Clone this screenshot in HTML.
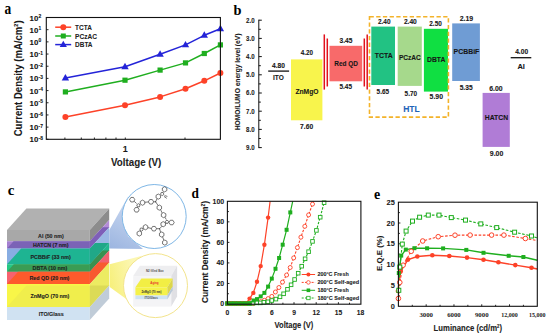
<!DOCTYPE html>
<html><head><meta charset="utf-8"><style>
html,body{margin:0;padding:0;background:#fff;}
body{width:550px;height:336px;overflow:hidden;}
svg{display:block;}
</style></head><body>
<svg width="550" height="336" viewBox="0 0 550 336" font-family="Liberation Sans, sans-serif">
<rect width="550" height="336" fill="#fff"/>
<text x="4.50" y="14.00" font-size="16" text-anchor="start" fill="#000" stroke="#000" stroke-width="0" font-family="Liberation Serif, serif" font-weight="bold" textLength="6.70" lengthAdjust="spacingAndGlyphs" >a</text>
<line x1="46.30" y1="17.50" x2="48.50" y2="17.50" stroke="#111" stroke-width="0.9" />
<line x1="46.30" y1="29.68" x2="48.50" y2="29.68" stroke="#111" stroke-width="0.9" />
<line x1="46.30" y1="41.86" x2="48.50" y2="41.86" stroke="#111" stroke-width="0.9" />
<line x1="46.30" y1="54.04" x2="48.50" y2="54.04" stroke="#111" stroke-width="0.9" />
<line x1="46.30" y1="66.22" x2="48.50" y2="66.22" stroke="#111" stroke-width="0.9" />
<line x1="46.30" y1="78.40" x2="48.50" y2="78.40" stroke="#111" stroke-width="0.9" />
<line x1="46.30" y1="90.58" x2="48.50" y2="90.58" stroke="#111" stroke-width="0.9" />
<line x1="46.30" y1="102.76" x2="48.50" y2="102.76" stroke="#111" stroke-width="0.9" />
<line x1="46.30" y1="114.94" x2="48.50" y2="114.94" stroke="#111" stroke-width="0.9" />
<line x1="46.30" y1="127.12" x2="48.50" y2="127.12" stroke="#111" stroke-width="0.9" />
<line x1="46.30" y1="139.30" x2="48.50" y2="139.30" stroke="#111" stroke-width="0.9" />
<line x1="64.90" y1="139.30" x2="64.90" y2="137.50" stroke="#111" stroke-width="0.9" />
<line x1="81.30" y1="139.30" x2="81.30" y2="137.50" stroke="#111" stroke-width="0.9" />
<line x1="94.40" y1="139.30" x2="94.40" y2="137.50" stroke="#111" stroke-width="0.9" />
<line x1="105.90" y1="139.30" x2="105.90" y2="137.50" stroke="#111" stroke-width="0.9" />
<line x1="116.00" y1="139.30" x2="116.00" y2="137.50" stroke="#111" stroke-width="0.9" />
<line x1="125.30" y1="139.30" x2="125.30" y2="137.50" stroke="#111" stroke-width="0.9" />
<line x1="185.00" y1="139.30" x2="185.00" y2="137.50" stroke="#111" stroke-width="0.9" />
<polyline points="65.40,116.90 125.00,105.20 160.10,96.90 185.50,88.80 204.30,80.80 220.40,73.00" fill="none" stroke="#fd4228" stroke-width="1.5" stroke-linejoin="round" />
<polyline points="65.40,91.90 125.00,80.20 160.10,70.10 185.50,62.90 204.30,53.50 220.40,44.90" fill="none" stroke="#1fae1f" stroke-width="1.5" stroke-linejoin="round" />
<polyline points="65.40,78.10 125.00,66.70 160.10,54.30 185.50,44.90 204.30,35.30 220.40,28.80" fill="none" stroke="#2424d8" stroke-width="1.5" stroke-linejoin="round" />
<circle cx="65.40" cy="116.90" r="3.0" fill="#fd4228" stroke="none" stroke-width="1"/>
<circle cx="125.00" cy="105.20" r="3.0" fill="#fd4228" stroke="none" stroke-width="1"/>
<circle cx="160.10" cy="96.90" r="3.0" fill="#fd4228" stroke="none" stroke-width="1"/>
<circle cx="185.50" cy="88.80" r="3.0" fill="#fd4228" stroke="none" stroke-width="1"/>
<circle cx="204.30" cy="80.80" r="3.0" fill="#fd4228" stroke="none" stroke-width="1"/>
<circle cx="220.40" cy="73.00" r="3.0" fill="#fd4228" stroke="none" stroke-width="1"/>
<rect x="62.80" y="89.30" width="5.2" height="5.2" fill="#1fae1f" stroke="none" stroke-width="1"/>
<rect x="122.40" y="77.60" width="5.2" height="5.2" fill="#1fae1f" stroke="none" stroke-width="1"/>
<rect x="157.50" y="67.50" width="5.2" height="5.2" fill="#1fae1f" stroke="none" stroke-width="1"/>
<rect x="182.90" y="60.30" width="5.2" height="5.2" fill="#1fae1f" stroke="none" stroke-width="1"/>
<rect x="201.70" y="50.90" width="5.2" height="5.2" fill="#1fae1f" stroke="none" stroke-width="1"/>
<rect x="217.80" y="42.30" width="5.2" height="5.2" fill="#1fae1f" stroke="none" stroke-width="1"/>
<polygon points="65.40,74.11 69.10,80.55 61.70,80.55" fill="#2424d8" />
<polygon points="125.00,62.71 128.70,69.15 121.30,69.15" fill="#2424d8" />
<polygon points="160.10,50.31 163.80,56.75 156.40,56.75" fill="#2424d8" />
<polygon points="185.50,40.91 189.20,47.35 181.80,47.35" fill="#2424d8" />
<polygon points="204.30,31.31 208.00,37.75 200.60,37.75" fill="#2424d8" />
<polygon points="220.40,24.81 224.10,31.25 216.70,31.25" fill="#2424d8" />
<rect x="46.30" y="17.50" width="174.10" height="121.80" fill="none" stroke="#111" stroke-width="1.1"/>
<text x="38.30" y="20.50" font-size="7.84" text-anchor="end" fill="#111" stroke="#111" stroke-width="0.08" font-family="Liberation Sans, sans-serif" font-weight="bold" >10</text>
<text x="38.50" y="18.10" font-size="4.93" text-anchor="start" fill="#111" stroke="#111" stroke-width="0.08" font-family="Liberation Sans, sans-serif" font-weight="bold" >2</text>
<text x="38.30" y="32.68" font-size="7.84" text-anchor="end" fill="#111" stroke="#111" stroke-width="0.08" font-family="Liberation Sans, sans-serif" font-weight="bold" >10</text>
<text x="38.50" y="30.28" font-size="4.93" text-anchor="start" fill="#111" stroke="#111" stroke-width="0.08" font-family="Liberation Sans, sans-serif" font-weight="bold" >1</text>
<text x="38.30" y="44.86" font-size="7.84" text-anchor="end" fill="#111" stroke="#111" stroke-width="0.08" font-family="Liberation Sans, sans-serif" font-weight="bold" >10</text>
<text x="38.50" y="42.46" font-size="4.93" text-anchor="start" fill="#111" stroke="#111" stroke-width="0.08" font-family="Liberation Sans, sans-serif" font-weight="bold" >0</text>
<text x="38.30" y="57.04" font-size="7.84" text-anchor="end" fill="#111" stroke="#111" stroke-width="0.08" font-family="Liberation Sans, sans-serif" font-weight="bold" >10</text>
<text x="38.50" y="54.64" font-size="4.93" text-anchor="start" fill="#111" stroke="#111" stroke-width="0.08" font-family="Liberation Sans, sans-serif" font-weight="bold" >-1</text>
<text x="38.30" y="69.22" font-size="7.84" text-anchor="end" fill="#111" stroke="#111" stroke-width="0.08" font-family="Liberation Sans, sans-serif" font-weight="bold" >10</text>
<text x="38.50" y="66.82" font-size="4.93" text-anchor="start" fill="#111" stroke="#111" stroke-width="0.08" font-family="Liberation Sans, sans-serif" font-weight="bold" >-2</text>
<text x="38.30" y="81.40" font-size="7.84" text-anchor="end" fill="#111" stroke="#111" stroke-width="0.08" font-family="Liberation Sans, sans-serif" font-weight="bold" >10</text>
<text x="38.50" y="79.00" font-size="4.93" text-anchor="start" fill="#111" stroke="#111" stroke-width="0.08" font-family="Liberation Sans, sans-serif" font-weight="bold" >-3</text>
<text x="38.30" y="93.58" font-size="7.84" text-anchor="end" fill="#111" stroke="#111" stroke-width="0.08" font-family="Liberation Sans, sans-serif" font-weight="bold" >10</text>
<text x="38.50" y="91.18" font-size="4.93" text-anchor="start" fill="#111" stroke="#111" stroke-width="0.08" font-family="Liberation Sans, sans-serif" font-weight="bold" >-4</text>
<text x="38.30" y="105.76" font-size="7.84" text-anchor="end" fill="#111" stroke="#111" stroke-width="0.08" font-family="Liberation Sans, sans-serif" font-weight="bold" >10</text>
<text x="38.50" y="103.36" font-size="4.93" text-anchor="start" fill="#111" stroke="#111" stroke-width="0.08" font-family="Liberation Sans, sans-serif" font-weight="bold" >-5</text>
<text x="38.30" y="117.94" font-size="7.84" text-anchor="end" fill="#111" stroke="#111" stroke-width="0.08" font-family="Liberation Sans, sans-serif" font-weight="bold" >10</text>
<text x="38.50" y="115.54" font-size="4.93" text-anchor="start" fill="#111" stroke="#111" stroke-width="0.08" font-family="Liberation Sans, sans-serif" font-weight="bold" >-6</text>
<text x="38.30" y="130.12" font-size="7.84" text-anchor="end" fill="#111" stroke="#111" stroke-width="0.08" font-family="Liberation Sans, sans-serif" font-weight="bold" >10</text>
<text x="38.50" y="127.72" font-size="4.93" text-anchor="start" fill="#111" stroke="#111" stroke-width="0.08" font-family="Liberation Sans, sans-serif" font-weight="bold" >-7</text>
<text x="38.30" y="142.30" font-size="7.84" text-anchor="end" fill="#111" stroke="#111" stroke-width="0.08" font-family="Liberation Sans, sans-serif" font-weight="bold" >10</text>
<text x="38.50" y="139.90" font-size="4.93" text-anchor="start" fill="#111" stroke="#111" stroke-width="0.08" font-family="Liberation Sans, sans-serif" font-weight="bold" >-8</text>
<line x1="55.20" y1="27.20" x2="71.20" y2="27.20" stroke="#fd4228" stroke-width="1.5" />
<circle cx="63.30" cy="27.20" r="3.0" fill="#fd4228" stroke="none" stroke-width="1"/>
<text x="75.10" y="29.70" font-size="7.84" text-anchor="start" fill="#222" stroke="#222" stroke-width="0.08" font-family="Liberation Sans, sans-serif" font-weight="bold" textLength="16.70" lengthAdjust="spacingAndGlyphs" >TCTA</text>
<line x1="55.20" y1="36.00" x2="71.20" y2="36.00" stroke="#1fae1f" stroke-width="1.5" />
<rect x="60.80" y="33.50" width="5.0" height="5.0" fill="#1fae1f" stroke="none" stroke-width="1"/>
<text x="75.10" y="38.50" font-size="7.84" text-anchor="start" fill="#222" stroke="#222" stroke-width="0.08" font-family="Liberation Sans, sans-serif" font-weight="bold" textLength="21.80" lengthAdjust="spacingAndGlyphs" >PCzAC</text>
<line x1="55.20" y1="44.60" x2="71.20" y2="44.60" stroke="#2424d8" stroke-width="1.5" />
<polygon points="63.30,40.72 66.90,46.98 59.70,46.98" fill="#2424d8" />
<text x="75.10" y="47.10" font-size="7.84" text-anchor="start" fill="#222" stroke="#222" stroke-width="0.08" font-family="Liberation Sans, sans-serif" font-weight="bold" textLength="17.40" lengthAdjust="spacingAndGlyphs" >DBTA</text>
<text x="125.20" y="152.00" font-size="8.96" text-anchor="middle" fill="#1a1a1a" stroke="#1a1a1a" stroke-width="0.08" font-family="Liberation Sans, sans-serif" font-weight="bold" >1</text>
<text x="111.10" y="165.50" font-size="10.08" text-anchor="start" fill="#222" stroke="#222" stroke-width="0.08" font-family="Liberation Sans, sans-serif" font-weight="bold" textLength="50.20" lengthAdjust="spacingAndGlyphs" >Voltage (V)</text>
<text transform="translate(21.60,136.30) rotate(-90)" x="0" y="0" font-size="10.08" fill="#1a1a1a" stroke="#1a1a1a" stroke-width="0.08" font-family="Liberation Sans, sans-serif" font-weight="bold" textLength="115.90" lengthAdjust="spacingAndGlyphs">Current Density (mA/cm<tspan font-size="5.8" dy="-3.6">2</tspan><tspan dy="3.6">)</tspan></text>
<text x="233.60" y="15.20" font-size="15" text-anchor="start" fill="#000" stroke="#000" stroke-width="0" font-family="Liberation Serif, serif" font-weight="bold" textLength="8.00" lengthAdjust="spacingAndGlyphs" >b</text>
<line x1="258.80" y1="19.70" x2="258.80" y2="148.10" stroke="#111" stroke-width="1.0" />
<line x1="258.80" y1="20.20" x2="261.80" y2="20.20" stroke="#111" stroke-width="1.0" />
<text x="246.10" y="22.60" font-size="6.5" text-anchor="start" fill="#1a1a1a" stroke="#1a1a1a" stroke-width="0.08" font-family="Liberation Sans, sans-serif" font-weight="bold" textLength="8.50" lengthAdjust="spacingAndGlyphs" >2.0</text>
<line x1="258.80" y1="29.30" x2="260.80" y2="29.30" stroke="#111" stroke-width="1.0" />
<line x1="258.80" y1="38.40" x2="261.80" y2="38.40" stroke="#111" stroke-width="1.0" />
<text x="246.10" y="40.80" font-size="6.5" text-anchor="start" fill="#1a1a1a" stroke="#1a1a1a" stroke-width="0.08" font-family="Liberation Sans, sans-serif" font-weight="bold" textLength="8.50" lengthAdjust="spacingAndGlyphs" >3.0</text>
<line x1="258.80" y1="47.50" x2="260.80" y2="47.50" stroke="#111" stroke-width="1.0" />
<line x1="258.80" y1="56.60" x2="261.80" y2="56.60" stroke="#111" stroke-width="1.0" />
<text x="246.10" y="59.00" font-size="6.5" text-anchor="start" fill="#1a1a1a" stroke="#1a1a1a" stroke-width="0.08" font-family="Liberation Sans, sans-serif" font-weight="bold" textLength="8.50" lengthAdjust="spacingAndGlyphs" >4.0</text>
<line x1="258.80" y1="65.70" x2="260.80" y2="65.70" stroke="#111" stroke-width="1.0" />
<line x1="258.80" y1="74.80" x2="261.80" y2="74.80" stroke="#111" stroke-width="1.0" />
<text x="246.10" y="77.20" font-size="6.5" text-anchor="start" fill="#1a1a1a" stroke="#1a1a1a" stroke-width="0.08" font-family="Liberation Sans, sans-serif" font-weight="bold" textLength="8.50" lengthAdjust="spacingAndGlyphs" >5.0</text>
<line x1="258.80" y1="83.90" x2="260.80" y2="83.90" stroke="#111" stroke-width="1.0" />
<line x1="258.80" y1="93.00" x2="261.80" y2="93.00" stroke="#111" stroke-width="1.0" />
<text x="246.10" y="95.40" font-size="6.5" text-anchor="start" fill="#1a1a1a" stroke="#1a1a1a" stroke-width="0.08" font-family="Liberation Sans, sans-serif" font-weight="bold" textLength="8.50" lengthAdjust="spacingAndGlyphs" >6.0</text>
<line x1="258.80" y1="102.10" x2="260.80" y2="102.10" stroke="#111" stroke-width="1.0" />
<line x1="258.80" y1="111.20" x2="261.80" y2="111.20" stroke="#111" stroke-width="1.0" />
<text x="246.10" y="113.60" font-size="6.5" text-anchor="start" fill="#1a1a1a" stroke="#1a1a1a" stroke-width="0.08" font-family="Liberation Sans, sans-serif" font-weight="bold" textLength="8.50" lengthAdjust="spacingAndGlyphs" >7.0</text>
<line x1="258.80" y1="120.30" x2="260.80" y2="120.30" stroke="#111" stroke-width="1.0" />
<line x1="258.80" y1="129.40" x2="261.80" y2="129.40" stroke="#111" stroke-width="1.0" />
<text x="246.10" y="131.80" font-size="6.5" text-anchor="start" fill="#1a1a1a" stroke="#1a1a1a" stroke-width="0.08" font-family="Liberation Sans, sans-serif" font-weight="bold" textLength="8.50" lengthAdjust="spacingAndGlyphs" >8.0</text>
<line x1="258.80" y1="138.50" x2="260.80" y2="138.50" stroke="#111" stroke-width="1.0" />
<line x1="258.80" y1="147.60" x2="261.80" y2="147.60" stroke="#111" stroke-width="1.0" />
<text x="246.10" y="150.00" font-size="6.5" text-anchor="start" fill="#1a1a1a" stroke="#1a1a1a" stroke-width="0.08" font-family="Liberation Sans, sans-serif" font-weight="bold" textLength="8.50" lengthAdjust="spacingAndGlyphs" >9.0</text>
<text transform="translate(240.20,130.20) rotate(-90)" x="0" y="0" font-size="6.94" fill="#1a1a1a" stroke="#1a1a1a" stroke-width="0.08" font-family="Liberation Sans, sans-serif" font-weight="bold" textLength="96.60" lengthAdjust="spacingAndGlyphs">HOMO/LUMO energy level (eV)</text>
<line x1="268.20" y1="71.10" x2="289.10" y2="71.10" stroke="#111" stroke-width="1.3" />
<line x1="510.70" y1="57.70" x2="531.30" y2="57.70" stroke="#111" stroke-width="1.3" />
<rect x="291.00" y="59.40" width="31.40" height="60.90" fill="#f8f44c" />
<rect x="329.50" y="45.80" width="32.70" height="35.50" fill="#f86a6a" />
<line x1="324.30" y1="34.40" x2="324.30" y2="89.60" stroke="#e2101c" stroke-width="1.5" />
<line x1="327.30" y1="38.50" x2="327.30" y2="86.50" stroke="#e2101c" stroke-width="1.5" />
<line x1="364.30" y1="38.50" x2="364.30" y2="86.50" stroke="#e2101c" stroke-width="1.5" />
<line x1="367.20" y1="34.40" x2="367.20" y2="89.60" stroke="#e2101c" stroke-width="1.5" />
<rect x="371.30" y="26.60" width="23.70" height="58.40" fill="#22c283" />
<rect x="397.70" y="26.60" width="24.10" height="59.30" fill="#a6d98c" />
<rect x="423.90" y="28.80" width="24.10" height="62.80" fill="#10df42" />
<rect x="369.5" y="16.8" width="78.9" height="100.3" fill="none" stroke="#f3b32a" stroke-width="1.6" stroke-dasharray="4.3,2.4"/>
<rect x="452.20" y="23.40" width="27.70" height="57.60" fill="#6f9cd4" />
<rect x="482.60" y="92.90" width="27.20" height="54.00" fill="#b07cd6" />
<text x="272.10" y="67.60" font-size="7.61" text-anchor="start" fill="#161616" stroke="#161616" stroke-width="0.1" font-family="Liberation Sans, sans-serif" font-weight="bold" textLength="12.90" lengthAdjust="spacingAndGlyphs" >4.80</text>
<text x="273.00" y="80.10" font-size="7.61" text-anchor="start" fill="#161616" stroke="#161616" stroke-width="0.1" font-family="Liberation Sans, sans-serif" font-weight="bold" textLength="10.80" lengthAdjust="spacingAndGlyphs" >ITO</text>
<text x="300.70" y="55.10" font-size="7.61" text-anchor="start" fill="#161616" stroke="#161616" stroke-width="0.1" font-family="Liberation Sans, sans-serif" font-weight="bold" textLength="12.20" lengthAdjust="spacingAndGlyphs" >4.20</text>
<text x="295.40" y="93.50" font-size="8.08" text-anchor="start" fill="#161616" stroke="#161616" stroke-width="0.1" font-family="Liberation Sans, sans-serif" font-weight="bold" textLength="23.20" lengthAdjust="spacingAndGlyphs" >ZnMgO</text>
<text x="300.10" y="129.30" font-size="7.61" text-anchor="start" fill="#161616" stroke="#161616" stroke-width="0.1" font-family="Liberation Sans, sans-serif" font-weight="bold" textLength="13.00" lengthAdjust="spacingAndGlyphs" >7.60</text>
<text x="339.50" y="42.80" font-size="7.61" text-anchor="start" fill="#161616" stroke="#161616" stroke-width="0.1" font-family="Liberation Sans, sans-serif" font-weight="bold" textLength="12.90" lengthAdjust="spacingAndGlyphs" >3.45</text>
<text x="334.30" y="65.70" font-size="7.84" text-anchor="start" fill="#161616" stroke="#161616" stroke-width="0.1" font-family="Liberation Sans, sans-serif" font-weight="bold" textLength="23.70" lengthAdjust="spacingAndGlyphs" >Red QD</text>
<text x="339.50" y="89.40" font-size="7.61" text-anchor="start" fill="#161616" stroke="#161616" stroke-width="0.1" font-family="Liberation Sans, sans-serif" font-weight="bold" textLength="12.50" lengthAdjust="spacingAndGlyphs" >5.45</text>
<text x="377.90" y="24.00" font-size="7.61" text-anchor="start" fill="#161616" stroke="#161616" stroke-width="0.1" font-family="Liberation Sans, sans-serif" font-weight="bold" textLength="12.60" lengthAdjust="spacingAndGlyphs" >2.40</text>
<text x="374.80" y="58.30" font-size="8.08" text-anchor="start" fill="#161616" stroke="#161616" stroke-width="0.1" font-family="Liberation Sans, sans-serif" font-weight="bold" textLength="17.90" lengthAdjust="spacingAndGlyphs" >TCTA</text>
<text x="376.60" y="93.70" font-size="7.61" text-anchor="start" fill="#161616" stroke="#161616" stroke-width="0.1" font-family="Liberation Sans, sans-serif" font-weight="bold" textLength="12.50" lengthAdjust="spacingAndGlyphs" >5.65</text>
<text x="403.90" y="24.20" font-size="7.61" text-anchor="start" fill="#161616" stroke="#161616" stroke-width="0.1" font-family="Liberation Sans, sans-serif" font-weight="bold" textLength="12.90" lengthAdjust="spacingAndGlyphs" >2.40</text>
<text x="398.90" y="60.10" font-size="8.08" text-anchor="start" fill="#161616" stroke="#161616" stroke-width="0.1" font-family="Liberation Sans, sans-serif" font-weight="bold" textLength="21.80" lengthAdjust="spacingAndGlyphs" >PCzAC</text>
<text x="404.60" y="95.50" font-size="7.61" text-anchor="start" fill="#161616" stroke="#161616" stroke-width="0.1" font-family="Liberation Sans, sans-serif" font-weight="bold" textLength="12.50" lengthAdjust="spacingAndGlyphs" >5.70</text>
<text x="429.30" y="25.80" font-size="7.61" text-anchor="start" fill="#161616" stroke="#161616" stroke-width="0.1" font-family="Liberation Sans, sans-serif" font-weight="bold" textLength="12.50" lengthAdjust="spacingAndGlyphs" >2.50</text>
<text x="427.10" y="62.20" font-size="8.08" text-anchor="start" fill="#161616" stroke="#161616" stroke-width="0.1" font-family="Liberation Sans, sans-serif" font-weight="bold" textLength="18.30" lengthAdjust="spacingAndGlyphs" >DBTA</text>
<text x="429.60" y="99.40" font-size="7.61" text-anchor="start" fill="#161616" stroke="#161616" stroke-width="0.1" font-family="Liberation Sans, sans-serif" font-weight="bold" textLength="13.40" lengthAdjust="spacingAndGlyphs" >5.90</text>
<text x="459.70" y="21.40" font-size="7.15" text-anchor="start" fill="#161616" stroke="#161616" stroke-width="0.1" font-family="Liberation Sans, sans-serif" font-weight="bold" textLength="13.50" lengthAdjust="spacingAndGlyphs" >2.19</text>
<text x="453.60" y="54.30" font-size="7.38" text-anchor="start" fill="#161616" stroke="#161616" stroke-width="0.1" font-family="Liberation Sans, sans-serif" font-weight="bold" textLength="25.70" lengthAdjust="spacingAndGlyphs" >PCBBiF</text>
<text x="459.70" y="89.70" font-size="7.15" text-anchor="start" fill="#161616" stroke="#161616" stroke-width="0.1" font-family="Liberation Sans, sans-serif" font-weight="bold" textLength="12.90" lengthAdjust="spacingAndGlyphs" >5.35</text>
<text x="515.20" y="54.30" font-size="7.15" text-anchor="start" fill="#161616" stroke="#161616" stroke-width="0.1" font-family="Liberation Sans, sans-serif" font-weight="bold" textLength="12.90" lengthAdjust="spacingAndGlyphs" >4.00</text>
<text x="517.40" y="68.50" font-size="7.15" text-anchor="start" fill="#161616" stroke="#161616" stroke-width="0.1" font-family="Liberation Sans, sans-serif" font-weight="bold" textLength="7.50" lengthAdjust="spacingAndGlyphs" >Al</text>
<text x="489.20" y="91.30" font-size="7.15" text-anchor="start" fill="#161616" stroke="#161616" stroke-width="0.1" font-family="Liberation Sans, sans-serif" font-weight="bold" textLength="13.40" lengthAdjust="spacingAndGlyphs" >6.00</text>
<text x="484.80" y="119.60" font-size="7.38" text-anchor="start" fill="#161616" stroke="#161616" stroke-width="0.1" font-family="Liberation Sans, sans-serif" font-weight="bold" textLength="23.30" lengthAdjust="spacingAndGlyphs" >HATCN</text>
<text x="489.80" y="155.80" font-size="7.15" text-anchor="start" fill="#161616" stroke="#161616" stroke-width="0.1" font-family="Liberation Sans, sans-serif" font-weight="bold" textLength="13.50" lengthAdjust="spacingAndGlyphs" >9.00</text>
<text x="403.20" y="112.30" font-size="9.63" text-anchor="start" fill="#2263b8" stroke="#2263b8" stroke-width="0.05" font-family="Liberation Sans, sans-serif" font-weight="bold" textLength="16.60" lengthAdjust="spacingAndGlyphs" >HTL</text>
<text x="7.80" y="195.00" font-size="15" text-anchor="start" fill="#000" stroke="#000" stroke-width="0" font-family="Liberation Serif, serif" font-weight="bold" textLength="6.60" lengthAdjust="spacingAndGlyphs" >c</text>
<defs><linearGradient id="gb" x1="109" y1="248" x2="135" y2="200" gradientUnits="userSpaceOnUse"><stop offset="0" stop-color="#9cb5e0"/><stop offset="1" stop-color="#cddbf2"/></linearGradient><linearGradient id="gy" x1="109" y1="276" x2="135" y2="270" gradientUnits="userSpaceOnUse"><stop offset="0" stop-color="#f7f07e"/><stop offset="1" stop-color="#fcf7b4"/></linearGradient></defs>
<polygon points="109.30,230.00 128.30,196.00 124.00,216.00 128.00,236.00 143.00,249.10 109.30,248.40" fill="url(#gb)" />
<polygon points="109.70,264.30 142.10,255.70 128.00,270.00 124.50,286.00 126.90,299.50 109.70,287.10" fill="url(#gy)" />
<circle cx="154.20" cy="216.50" r="32.0" fill="#ffffff" stroke="#7fb7e6" stroke-width="1.0"/>
<circle cx="155.50" cy="285.60" r="32.0" fill="#ffffff" stroke="#f3e48c" stroke-width="1.0"/>
<polygon points="7.00,229.90 26.40,208.50 109.20,208.50 89.80,229.90" fill="#b1b1b1" />
<polygon points="7.00,229.90 89.80,229.90 89.80,241.30 7.00,241.30" fill="#a8a8a8" />
<polygon points="89.80,229.90 109.20,208.50 109.20,219.90 89.80,241.30" fill="#8c8c8c" />
<text x="38.10" y="238.20" font-size="5.94" text-anchor="start" fill="#1e1e1e" stroke="#1e1e1e" stroke-width="0.12" font-family="Liberation Sans, sans-serif" font-weight="bold" textLength="25.70" lengthAdjust="spacingAndGlyphs" >Al (50 nm)</text>
<polygon points="7.00,241.30 89.80,241.30 89.80,248.60 7.00,248.60" fill="#a47fd0" />
<polygon points="89.80,241.30 109.20,219.90 109.20,227.20 89.80,248.60" fill="#b48cd8" />
<polygon points="13.62,241.30 89.80,241.30 89.80,248.60 7.00,248.60 7.00,248.60" fill="#7b63b6" />
<polygon points="89.80,241.30 102.58,227.20 109.20,227.20 109.20,227.20 89.80,248.60" fill="#7e5fb8" />
<text x="32.90" y="246.50" font-size="5.94" text-anchor="start" fill="#1e1e1e" stroke="#1e1e1e" stroke-width="0.12" font-family="Liberation Sans, sans-serif" font-weight="bold" textLength="35.70" lengthAdjust="spacingAndGlyphs" >HATCN (7 nm)</text>
<polygon points="7.00,248.60 89.80,248.60 89.80,264.30 7.00,264.30" fill="#88ade2" />
<polygon points="89.80,248.60 109.20,227.20 109.20,242.90 89.80,264.30" fill="#9ab8e4" />
<polygon points="21.23,248.60 89.80,248.60 89.80,264.30 7.00,264.30 7.00,264.30" fill="#1eb492" />
<polygon points="89.80,248.60 94.97,242.90 109.20,242.90 109.20,242.90 89.80,264.30" fill="#20a888" />
<text x="30.50" y="259.10" font-size="5.94" text-anchor="start" fill="#1e1e1e" stroke="#1e1e1e" stroke-width="0.12" font-family="Liberation Sans, sans-serif" font-weight="bold" textLength="40.20" lengthAdjust="spacingAndGlyphs" >PCBBiF (33 nm)</text>
<polygon points="7.00,264.30 89.80,264.30 89.80,271.80 7.00,271.80" fill="#25c884" />
<polygon points="89.80,264.30 109.20,242.90 109.20,250.40 89.80,271.80" fill="#22b88e" />
<polygon points="13.80,264.30 89.80,264.30 89.80,271.80 7.00,271.80 7.00,271.80" fill="#3a9c54" />
<polygon points="89.80,264.30 102.40,250.40 109.20,250.40 109.20,250.40 89.80,271.80" fill="#3a9050" />
<text x="32.60" y="270.10" font-size="5.94" text-anchor="start" fill="#1e1e1e" stroke="#1e1e1e" stroke-width="0.12" font-family="Liberation Sans, sans-serif" font-weight="bold" textLength="34.80" lengthAdjust="spacingAndGlyphs" >DBTA (10 nm)</text>
<polygon points="7.00,271.80 89.80,271.80 89.80,284.00 7.00,284.00" fill="#f7626e" />
<polygon points="89.80,271.80 109.20,250.40 109.20,262.60 89.80,284.00" fill="#f26070" />
<polygon points="18.06,271.80 89.80,271.80 89.80,284.00 7.00,284.00 7.00,284.00" fill="#fe5a2c" />
<polygon points="89.80,271.80 98.14,262.60 109.20,262.60 109.20,262.60 89.80,284.00" fill="#f85a30" />
<text x="29.50" y="280.30" font-size="5.94" text-anchor="start" fill="#1e1e1e" stroke="#1e1e1e" stroke-width="0.12" font-family="Liberation Sans, sans-serif" font-weight="bold" textLength="39.90" lengthAdjust="spacingAndGlyphs" >Red QD (20 nm)</text>
<polygon points="7.00,284.00 89.80,284.00 89.80,306.90 7.00,306.90" fill="#f8f648" />
<polygon points="89.80,284.00 109.20,262.60 109.20,285.50 89.80,306.90" fill="#eceb62" />
<polygon points="89.80,285.50 89.80,306.90 7.00,306.90 7.00,306.90 26.40,285.50" fill="#f0ee4c" />
<polygon points="109.20,285.50 109.20,285.50 89.80,306.90 89.80,285.50" fill="#dcdb56" />
<text x="30.50" y="297.70" font-size="5.94" text-anchor="start" fill="#1e1e1e" stroke="#1e1e1e" stroke-width="0.12" font-family="Liberation Sans, sans-serif" font-weight="bold" textLength="38.90" lengthAdjust="spacingAndGlyphs" >ZnMgO (70 nm)</text>
<polygon points="7.00,306.90 89.80,306.90 89.80,320.00 7.00,320.00" fill="#d0e2f2" />
<polygon points="89.80,306.90 109.20,285.50 109.20,298.60 89.80,320.00" fill="#c0ccd8" />
<text x="38.80" y="316.20" font-size="5.94" text-anchor="start" fill="#1e1e1e" stroke="#1e1e1e" stroke-width="0.12" font-family="Liberation Sans, sans-serif" font-weight="bold" textLength="24.90" lengthAdjust="spacingAndGlyphs" >ITO/Glass</text>
<polygon points="134.80,199.70 133.50,201.95 130.90,201.95 129.60,199.70 130.90,197.45 133.50,197.45" fill="none" stroke="#3c3c3c" stroke-width="0.7"/>
<line x1="134.20" y1="201.30" x2="136.60" y2="203.50" stroke="#3c3c3c" stroke-width="0.7" />
<polygon points="138.40,203.65 140.06,204.86 139.43,206.82 137.37,206.82 136.74,204.86" fill="none" stroke="#3c3c3c" stroke-width="0.7"/>
<polygon points="139.20,209.80 137.90,212.05 135.30,212.05 134.00,209.80 135.30,207.55 137.90,207.55" fill="none" stroke="#3c3c3c" stroke-width="0.7"/>
<polygon points="144.75,204.00 142.50,205.30 140.25,204.00 140.25,201.40 142.50,200.10 144.75,201.40" fill="none" stroke="#3c3c3c" stroke-width="0.7"/>
<line x1="144.90" y1="202.30" x2="148.60" y2="201.90" stroke="#3c3c3c" stroke-width="0.7" />
<polygon points="153.60,201.80 152.30,204.05 149.70,204.05 148.40,201.80 149.70,199.55 152.30,199.55" fill="none" stroke="#3c3c3c" stroke-width="0.7"/>
<line x1="153.40" y1="201.80" x2="155.60" y2="201.80" stroke="#3c3c3c" stroke-width="0.7" />
<line x1="155.60" y1="201.80" x2="157.00" y2="198.80" stroke="#3c3c3c" stroke-width="0.7" />
<polygon points="160.55,197.90 158.30,199.20 156.05,197.90 156.05,195.30 158.30,194.00 160.55,195.30" fill="none" stroke="#3c3c3c" stroke-width="0.7"/>
<polygon points="163.84,194.50 162.14,195.65 160.52,194.38 161.22,192.45 163.28,192.52" fill="none" stroke="#3c3c3c" stroke-width="0.7"/>
<polygon points="166.85,190.60 164.60,191.90 162.35,190.60 162.35,188.00 164.60,186.70 166.85,188.00" fill="none" stroke="#3c3c3c" stroke-width="0.7"/>
<line x1="164.00" y1="196.40" x2="166.80" y2="198.40" stroke="#3c3c3c" stroke-width="0.7" />
<line x1="164.60" y1="195.60" x2="167.40" y2="196.40" stroke="#3c3c3c" stroke-width="0.7" />
<line x1="155.60" y1="201.80" x2="158.00" y2="205.40" stroke="#3c3c3c" stroke-width="0.7" />
<polygon points="161.55,208.90 159.30,210.20 157.05,208.90 157.05,206.30 159.30,205.00 161.55,206.30" fill="none" stroke="#3c3c3c" stroke-width="0.7"/>
<line x1="160.60" y1="209.80" x2="162.20" y2="213.00" stroke="#3c3c3c" stroke-width="0.7" />
<polygon points="165.85,216.40 163.60,217.70 161.35,216.40 161.35,213.80 163.60,212.50 165.85,213.80" fill="none" stroke="#3c3c3c" stroke-width="0.7"/>
<line x1="165.00" y1="217.20" x2="166.30" y2="219.60" stroke="#3c3c3c" stroke-width="0.7" />
<polygon points="167.00,220.15 168.66,221.36 168.03,223.32 165.97,223.32 165.34,221.36" fill="none" stroke="#3c3c3c" stroke-width="0.7"/>
<polygon points="165.45,225.50 163.20,226.80 160.95,225.50 160.95,222.90 163.20,221.60 165.45,222.90" fill="none" stroke="#3c3c3c" stroke-width="0.7"/>
<polygon points="174.20,222.50 172.90,224.75 170.30,224.75 169.00,222.50 170.30,220.25 172.90,220.25" fill="none" stroke="#3c3c3c" stroke-width="0.7"/>
<line x1="161.90" y1="226.30" x2="159.60" y2="228.70" stroke="#3c3c3c" stroke-width="0.7" />
<polygon points="156.50,228.70 155.20,230.95 152.60,230.95 151.30,228.70 152.60,226.45 155.20,226.45" fill="none" stroke="#3c3c3c" stroke-width="0.7"/>
<line x1="151.50" y1="228.50" x2="148.00" y2="227.60" stroke="#3c3c3c" stroke-width="0.7" />
<polygon points="147.75,228.50 145.50,229.80 143.25,228.50 143.25,225.90 145.50,224.60 147.75,225.90" fill="none" stroke="#3c3c3c" stroke-width="0.7"/>
<polygon points="142.38,227.98 143.21,229.86 141.68,231.24 139.90,230.21 140.33,228.20" fill="none" stroke="#3c3c3c" stroke-width="0.7"/>
<polygon points="141.55,234.80 139.30,236.10 137.05,234.80 137.05,232.20 139.30,230.90 141.55,232.20" fill="none" stroke="#3c3c3c" stroke-width="0.7"/>
<line x1="156.30" y1="228.70" x2="159.60" y2="228.70" stroke="#3c3c3c" stroke-width="0.7" />
<line x1="159.60" y1="228.70" x2="160.60" y2="232.20" stroke="#3c3c3c" stroke-width="0.7" />
<polygon points="163.95,235.80 161.70,237.10 159.45,235.80 159.45,233.20 161.70,231.90 163.95,233.20" fill="none" stroke="#3c3c3c" stroke-width="0.7"/>
<line x1="162.60" y1="236.90" x2="163.80" y2="240.20" stroke="#3c3c3c" stroke-width="0.7" />
<polygon points="167.05,243.90 164.80,245.20 162.55,243.90 162.55,241.30 164.80,240.00 167.05,241.30" fill="none" stroke="#3c3c3c" stroke-width="0.7"/>
<circle cx="155.60" cy="201.80" r="0.55" fill="#333" stroke="none" stroke-width="1"/>
<circle cx="159.60" cy="228.70" r="0.55" fill="#333" stroke="none" stroke-width="1"/>
<polygon points="133.20,276.10 139.90,265.70 177.10,265.70 171.20,276.10" fill="#eeeef0" />
<polygon points="171.20,276.10 177.10,265.70 177.10,296.50 171.20,306.60" fill="#e0e0e4" />
<rect x="133.20" y="276.10" width="38.00" height="30.50" fill="#f4f4f6" />
<polygon points="135.40,287.30 141.40,278.40 172.60,278.40 167.40,287.30" fill="#f2ee44" />
<rect x="135.40" y="287.30" width="32.00" height="8.20" fill="#f5f24a" />
<polygon points="167.40,287.30 172.60,278.40 172.60,286.60 167.40,295.50" fill="#dcd64c" />
<rect x="135.40" y="295.50" width="32.00" height="3.70" fill="#cfe3f3" />
<polygon points="167.40,295.50 172.60,286.60 172.60,290.30 167.40,299.20" fill="#b8c8d8" />
<text x="145.90" y="272.30" font-size="3.14" text-anchor="start" fill="#555" stroke="#555" stroke-width="0" font-family="Liberation Sans, sans-serif" font-weight="bold" textLength="17.80" lengthAdjust="spacingAndGlyphs" >N2 filled Box</text>
<text x="150.30" y="284.20" font-size="3.25" text-anchor="start" fill="#e83030" stroke="#e83030" stroke-width="0" font-family="Liberation Sans, sans-serif" font-weight="bold" textLength="8.20" lengthAdjust="spacingAndGlyphs" >Aging</text>
<text x="141.40" y="292.60" font-size="3.25" text-anchor="start" fill="#333" stroke="#333" stroke-width="0" font-family="Liberation Sans, sans-serif" font-weight="bold" textLength="20.10" lengthAdjust="spacingAndGlyphs" >ZnMgO (70 nm)</text>
<text x="144.40" y="298.60" font-size="2.8" text-anchor="start" fill="#555" stroke="#555" stroke-width="0" font-family="Liberation Sans, sans-serif" font-weight="bold" textLength="13.40" lengthAdjust="spacingAndGlyphs" >ITO/Glass</text>
<text x="191.60" y="198.40" font-size="14" text-anchor="start" fill="#000" stroke="#000" stroke-width="0" font-family="Liberation Serif, serif" font-weight="bold" textLength="7.40" lengthAdjust="spacingAndGlyphs" >d</text>
<line x1="227.40" y1="293.73" x2="228.90" y2="293.73" stroke="#111" stroke-width="0.9" />
<line x1="227.40" y1="283.46" x2="229.40" y2="283.46" stroke="#111" stroke-width="0.9" />
<line x1="227.40" y1="273.19" x2="228.90" y2="273.19" stroke="#111" stroke-width="0.9" />
<line x1="227.40" y1="262.92" x2="229.40" y2="262.92" stroke="#111" stroke-width="0.9" />
<line x1="227.40" y1="252.65" x2="228.90" y2="252.65" stroke="#111" stroke-width="0.9" />
<line x1="227.40" y1="242.38" x2="229.40" y2="242.38" stroke="#111" stroke-width="0.9" />
<line x1="227.40" y1="232.11" x2="228.90" y2="232.11" stroke="#111" stroke-width="0.9" />
<line x1="227.40" y1="221.84" x2="229.40" y2="221.84" stroke="#111" stroke-width="0.9" />
<line x1="227.40" y1="211.57" x2="228.90" y2="211.57" stroke="#111" stroke-width="0.9" />
<line x1="238.50" y1="304.20" x2="238.50" y2="302.70" stroke="#111" stroke-width="0.9" />
<line x1="249.60" y1="304.20" x2="249.60" y2="302.20" stroke="#111" stroke-width="0.9" />
<line x1="260.70" y1="304.20" x2="260.70" y2="302.70" stroke="#111" stroke-width="0.9" />
<line x1="271.80" y1="304.20" x2="271.80" y2="302.20" stroke="#111" stroke-width="0.9" />
<line x1="282.90" y1="304.20" x2="282.90" y2="302.70" stroke="#111" stroke-width="0.9" />
<line x1="294.00" y1="304.20" x2="294.00" y2="302.20" stroke="#111" stroke-width="0.9" />
<line x1="305.10" y1="304.20" x2="305.10" y2="302.70" stroke="#111" stroke-width="0.9" />
<line x1="316.20" y1="304.20" x2="316.20" y2="302.20" stroke="#111" stroke-width="0.9" />
<line x1="327.30" y1="304.20" x2="327.30" y2="302.70" stroke="#111" stroke-width="0.9" />
<line x1="338.40" y1="304.20" x2="338.40" y2="302.20" stroke="#111" stroke-width="0.9" />
<line x1="349.50" y1="304.20" x2="349.50" y2="302.70" stroke="#111" stroke-width="0.9" />
<polyline points="227.40,303.50 231.10,303.50 234.80,303.50 238.50,303.50 242.20,303.50 245.90,303.50 249.60,298.60 253.30,292.90 257.00,281.80 260.70,266.10 264.40,244.70 268.10,217.60 270.10,201.30" fill="none" stroke="#fd4228" stroke-width="1.2" stroke-linejoin="round" />
<polyline points="227.40,303.50 231.10,303.50 234.80,303.50 238.50,303.50 242.20,303.50 245.90,303.50 249.60,303.50 253.30,303.50 257.00,302.60 260.70,301.60 264.40,300.30 268.10,298.60 271.80,296.40 275.40,292.00 278.90,287.50 282.50,282.10 286.60,275.00 290.20,267.50 293.70,257.90 297.40,247.60 300.90,237.20 304.80,226.30 308.60,214.90 312.50,204.10 313.40,201.30" fill="none" stroke="#fd4228" stroke-width="1.1" stroke-linejoin="round" stroke-dasharray="2.4,1.4"/>
<polyline points="227.40,303.50 231.10,303.50 234.80,303.50 238.50,303.50 242.20,303.50 245.90,303.50 249.60,303.50 253.00,303.20 256.80,302.90 260.40,302.90 263.90,302.30 267.90,301.80 271.80,300.50 275.90,299.10 280.00,296.80 283.60,293.80 287.50,289.30 291.10,284.80 294.60,279.50 298.20,273.20 301.70,266.20 305.10,258.80 308.60,251.70 312.50,241.40 316.40,230.40 320.20,217.20 324.10,202.70" fill="none" stroke="#1fae1f" stroke-width="1.1" stroke-linejoin="round" stroke-dasharray="2.4,1.4"/>
<polyline points="227.40,303.50 231.10,303.50 234.80,303.50 238.50,303.50 242.20,303.50 245.90,303.50 249.60,303.50 253.60,300.50 257.00,299.10 260.70,296.40 264.40,292.90 268.10,286.60 271.80,278.60 275.50,268.80 279.10,258.00 282.70,244.70 286.60,229.80 290.30,212.40 292.70,201.30" fill="none" stroke="#1fae1f" stroke-width="1.2" stroke-linejoin="round" />
<circle cx="227.40" cy="303.50" r="2.0" fill="#fff" stroke="#fd4228" stroke-width="0.9"/>
<circle cx="231.10" cy="303.50" r="2.0" fill="#fff" stroke="#fd4228" stroke-width="0.9"/>
<circle cx="234.80" cy="303.50" r="2.0" fill="#fff" stroke="#fd4228" stroke-width="0.9"/>
<circle cx="238.50" cy="303.50" r="2.0" fill="#fff" stroke="#fd4228" stroke-width="0.9"/>
<circle cx="242.20" cy="303.50" r="2.0" fill="#fff" stroke="#fd4228" stroke-width="0.9"/>
<circle cx="245.90" cy="303.50" r="2.0" fill="#fff" stroke="#fd4228" stroke-width="0.9"/>
<circle cx="249.60" cy="303.50" r="2.0" fill="#fff" stroke="#fd4228" stroke-width="0.9"/>
<circle cx="253.30" cy="303.50" r="2.0" fill="#fff" stroke="#fd4228" stroke-width="0.9"/>
<circle cx="257.00" cy="302.60" r="2.0" fill="#fff" stroke="#fd4228" stroke-width="0.9"/>
<circle cx="260.70" cy="301.60" r="2.0" fill="#fff" stroke="#fd4228" stroke-width="0.9"/>
<circle cx="264.40" cy="300.30" r="2.0" fill="#fff" stroke="#fd4228" stroke-width="0.9"/>
<circle cx="268.10" cy="298.60" r="2.0" fill="#fff" stroke="#fd4228" stroke-width="0.9"/>
<circle cx="271.80" cy="296.40" r="2.0" fill="#fff" stroke="#fd4228" stroke-width="0.9"/>
<circle cx="275.40" cy="292.00" r="2.0" fill="#fff" stroke="#fd4228" stroke-width="0.9"/>
<circle cx="278.90" cy="287.50" r="2.0" fill="#fff" stroke="#fd4228" stroke-width="0.9"/>
<circle cx="282.50" cy="282.10" r="2.0" fill="#fff" stroke="#fd4228" stroke-width="0.9"/>
<circle cx="286.60" cy="275.00" r="2.0" fill="#fff" stroke="#fd4228" stroke-width="0.9"/>
<circle cx="290.20" cy="267.50" r="2.0" fill="#fff" stroke="#fd4228" stroke-width="0.9"/>
<circle cx="293.70" cy="257.90" r="2.0" fill="#fff" stroke="#fd4228" stroke-width="0.9"/>
<circle cx="297.40" cy="247.60" r="2.0" fill="#fff" stroke="#fd4228" stroke-width="0.9"/>
<circle cx="300.90" cy="237.20" r="2.0" fill="#fff" stroke="#fd4228" stroke-width="0.9"/>
<circle cx="304.80" cy="226.30" r="2.0" fill="#fff" stroke="#fd4228" stroke-width="0.9"/>
<circle cx="308.60" cy="214.90" r="2.0" fill="#fff" stroke="#fd4228" stroke-width="0.9"/>
<circle cx="312.50" cy="204.10" r="2.0" fill="#fff" stroke="#fd4228" stroke-width="0.9"/>
<rect x="225.60" y="301.70" width="3.6" height="3.6" fill="#fff" stroke="#1fae1f" stroke-width="0.9"/>
<rect x="229.30" y="301.70" width="3.6" height="3.6" fill="#fff" stroke="#1fae1f" stroke-width="0.9"/>
<rect x="233.00" y="301.70" width="3.6" height="3.6" fill="#fff" stroke="#1fae1f" stroke-width="0.9"/>
<rect x="236.70" y="301.70" width="3.6" height="3.6" fill="#fff" stroke="#1fae1f" stroke-width="0.9"/>
<rect x="240.40" y="301.70" width="3.6" height="3.6" fill="#fff" stroke="#1fae1f" stroke-width="0.9"/>
<rect x="244.10" y="301.70" width="3.6" height="3.6" fill="#fff" stroke="#1fae1f" stroke-width="0.9"/>
<rect x="247.80" y="301.70" width="3.6" height="3.6" fill="#fff" stroke="#1fae1f" stroke-width="0.9"/>
<rect x="251.20" y="301.40" width="3.6" height="3.6" fill="#fff" stroke="#1fae1f" stroke-width="0.9"/>
<rect x="255.00" y="301.10" width="3.6" height="3.6" fill="#fff" stroke="#1fae1f" stroke-width="0.9"/>
<rect x="258.60" y="301.10" width="3.6" height="3.6" fill="#fff" stroke="#1fae1f" stroke-width="0.9"/>
<rect x="262.10" y="300.50" width="3.6" height="3.6" fill="#fff" stroke="#1fae1f" stroke-width="0.9"/>
<rect x="266.10" y="300.00" width="3.6" height="3.6" fill="#fff" stroke="#1fae1f" stroke-width="0.9"/>
<rect x="270.00" y="298.70" width="3.6" height="3.6" fill="#fff" stroke="#1fae1f" stroke-width="0.9"/>
<rect x="274.10" y="297.30" width="3.6" height="3.6" fill="#fff" stroke="#1fae1f" stroke-width="0.9"/>
<rect x="278.20" y="295.00" width="3.6" height="3.6" fill="#fff" stroke="#1fae1f" stroke-width="0.9"/>
<rect x="281.80" y="292.00" width="3.6" height="3.6" fill="#fff" stroke="#1fae1f" stroke-width="0.9"/>
<rect x="285.70" y="287.50" width="3.6" height="3.6" fill="#fff" stroke="#1fae1f" stroke-width="0.9"/>
<rect x="289.30" y="283.00" width="3.6" height="3.6" fill="#fff" stroke="#1fae1f" stroke-width="0.9"/>
<rect x="292.80" y="277.70" width="3.6" height="3.6" fill="#fff" stroke="#1fae1f" stroke-width="0.9"/>
<rect x="296.40" y="271.40" width="3.6" height="3.6" fill="#fff" stroke="#1fae1f" stroke-width="0.9"/>
<rect x="299.90" y="264.40" width="3.6" height="3.6" fill="#fff" stroke="#1fae1f" stroke-width="0.9"/>
<rect x="303.30" y="257.00" width="3.6" height="3.6" fill="#fff" stroke="#1fae1f" stroke-width="0.9"/>
<rect x="306.80" y="249.90" width="3.6" height="3.6" fill="#fff" stroke="#1fae1f" stroke-width="0.9"/>
<rect x="310.70" y="239.60" width="3.6" height="3.6" fill="#fff" stroke="#1fae1f" stroke-width="0.9"/>
<rect x="314.60" y="228.60" width="3.6" height="3.6" fill="#fff" stroke="#1fae1f" stroke-width="0.9"/>
<rect x="318.40" y="215.40" width="3.6" height="3.6" fill="#fff" stroke="#1fae1f" stroke-width="0.9"/>
<rect x="322.30" y="200.90" width="3.6" height="3.6" fill="#fff" stroke="#1fae1f" stroke-width="0.9"/>
<circle cx="227.40" cy="303.50" r="2.2" fill="#fd4228" stroke="none" stroke-width="1"/>
<circle cx="231.10" cy="303.50" r="2.2" fill="#fd4228" stroke="none" stroke-width="1"/>
<circle cx="234.80" cy="303.50" r="2.2" fill="#fd4228" stroke="none" stroke-width="1"/>
<circle cx="238.50" cy="303.50" r="2.2" fill="#fd4228" stroke="none" stroke-width="1"/>
<circle cx="242.20" cy="303.50" r="2.2" fill="#fd4228" stroke="none" stroke-width="1"/>
<circle cx="245.90" cy="303.50" r="2.2" fill="#fd4228" stroke="none" stroke-width="1"/>
<circle cx="249.60" cy="298.60" r="2.2" fill="#fd4228" stroke="none" stroke-width="1"/>
<circle cx="253.30" cy="292.90" r="2.2" fill="#fd4228" stroke="none" stroke-width="1"/>
<circle cx="257.00" cy="281.80" r="2.2" fill="#fd4228" stroke="none" stroke-width="1"/>
<circle cx="260.70" cy="266.10" r="2.2" fill="#fd4228" stroke="none" stroke-width="1"/>
<circle cx="264.40" cy="244.70" r="2.2" fill="#fd4228" stroke="none" stroke-width="1"/>
<circle cx="268.10" cy="217.60" r="2.2" fill="#fd4228" stroke="none" stroke-width="1"/>
<rect x="225.40" y="301.50" width="4.0" height="4.0" fill="#1fae1f" stroke="none" stroke-width="1"/>
<rect x="229.10" y="301.50" width="4.0" height="4.0" fill="#1fae1f" stroke="none" stroke-width="1"/>
<rect x="232.80" y="301.50" width="4.0" height="4.0" fill="#1fae1f" stroke="none" stroke-width="1"/>
<rect x="236.50" y="301.50" width="4.0" height="4.0" fill="#1fae1f" stroke="none" stroke-width="1"/>
<rect x="240.20" y="301.50" width="4.0" height="4.0" fill="#1fae1f" stroke="none" stroke-width="1"/>
<rect x="243.90" y="301.50" width="4.0" height="4.0" fill="#1fae1f" stroke="none" stroke-width="1"/>
<rect x="247.60" y="301.50" width="4.0" height="4.0" fill="#1fae1f" stroke="none" stroke-width="1"/>
<rect x="251.60" y="298.50" width="4.0" height="4.0" fill="#1fae1f" stroke="none" stroke-width="1"/>
<rect x="255.00" y="297.10" width="4.0" height="4.0" fill="#1fae1f" stroke="none" stroke-width="1"/>
<rect x="258.70" y="294.40" width="4.0" height="4.0" fill="#1fae1f" stroke="none" stroke-width="1"/>
<rect x="262.40" y="290.90" width="4.0" height="4.0" fill="#1fae1f" stroke="none" stroke-width="1"/>
<rect x="266.10" y="284.60" width="4.0" height="4.0" fill="#1fae1f" stroke="none" stroke-width="1"/>
<rect x="269.80" y="276.60" width="4.0" height="4.0" fill="#1fae1f" stroke="none" stroke-width="1"/>
<rect x="273.50" y="266.80" width="4.0" height="4.0" fill="#1fae1f" stroke="none" stroke-width="1"/>
<rect x="277.10" y="256.00" width="4.0" height="4.0" fill="#1fae1f" stroke="none" stroke-width="1"/>
<rect x="280.70" y="242.70" width="4.0" height="4.0" fill="#1fae1f" stroke="none" stroke-width="1"/>
<rect x="284.60" y="227.80" width="4.0" height="4.0" fill="#1fae1f" stroke="none" stroke-width="1"/>
<rect x="288.30" y="210.40" width="4.0" height="4.0" fill="#1fae1f" stroke="none" stroke-width="1"/>
<rect x="227.40" y="201.30" width="133.50" height="102.90" fill="none" stroke="#111" stroke-width="1.1"/>
<text x="224.20" y="306.30" font-size="6.94" text-anchor="end" fill="#1a1a1a" stroke="#1a1a1a" stroke-width="0.08" font-family="Liberation Sans, sans-serif" font-weight="bold" >0</text>
<text x="224.20" y="285.76" font-size="6.94" text-anchor="end" fill="#1a1a1a" stroke="#1a1a1a" stroke-width="0.08" font-family="Liberation Sans, sans-serif" font-weight="bold" >20</text>
<text x="224.20" y="265.22" font-size="6.94" text-anchor="end" fill="#1a1a1a" stroke="#1a1a1a" stroke-width="0.08" font-family="Liberation Sans, sans-serif" font-weight="bold" >40</text>
<text x="224.20" y="244.68" font-size="6.94" text-anchor="end" fill="#1a1a1a" stroke="#1a1a1a" stroke-width="0.08" font-family="Liberation Sans, sans-serif" font-weight="bold" >60</text>
<text x="224.20" y="224.14" font-size="6.94" text-anchor="end" fill="#1a1a1a" stroke="#1a1a1a" stroke-width="0.08" font-family="Liberation Sans, sans-serif" font-weight="bold" >80</text>
<text x="224.20" y="203.60" font-size="6.94" text-anchor="end" fill="#1a1a1a" stroke="#1a1a1a" stroke-width="0.08" font-family="Liberation Sans, sans-serif" font-weight="bold" >100</text>
<text x="227.40" y="314.50" font-size="6.72" text-anchor="middle" fill="#1a1a1a" stroke="#1a1a1a" stroke-width="0.08" font-family="Liberation Sans, sans-serif" font-weight="bold" >0</text>
<text x="249.60" y="314.50" font-size="6.72" text-anchor="middle" fill="#1a1a1a" stroke="#1a1a1a" stroke-width="0.08" font-family="Liberation Sans, sans-serif" font-weight="bold" >3</text>
<text x="271.80" y="314.50" font-size="6.72" text-anchor="middle" fill="#1a1a1a" stroke="#1a1a1a" stroke-width="0.08" font-family="Liberation Sans, sans-serif" font-weight="bold" >6</text>
<text x="294.00" y="314.50" font-size="6.72" text-anchor="middle" fill="#1a1a1a" stroke="#1a1a1a" stroke-width="0.08" font-family="Liberation Sans, sans-serif" font-weight="bold" >9</text>
<text x="316.20" y="314.50" font-size="6.72" text-anchor="middle" fill="#1a1a1a" stroke="#1a1a1a" stroke-width="0.08" font-family="Liberation Sans, sans-serif" font-weight="bold" >12</text>
<text x="338.40" y="314.50" font-size="6.72" text-anchor="middle" fill="#1a1a1a" stroke="#1a1a1a" stroke-width="0.08" font-family="Liberation Sans, sans-serif" font-weight="bold" >15</text>
<text x="360.60" y="314.50" font-size="6.72" text-anchor="middle" fill="#1a1a1a" stroke="#1a1a1a" stroke-width="0.08" font-family="Liberation Sans, sans-serif" font-weight="bold" >18</text>
<text x="274.60" y="327.70" font-size="8.4" text-anchor="start" fill="#222" stroke="#222" stroke-width="0.08" font-family="Liberation Sans, sans-serif" font-weight="bold" textLength="38.70" lengthAdjust="spacingAndGlyphs" >Voltage (V)</text>
<text transform="translate(208.30,303.10) rotate(-90)" x="0" y="0" font-size="8.51" fill="#1a1a1a" stroke="#1a1a1a" stroke-width="0.08" font-family="Liberation Sans, sans-serif" font-weight="bold" textLength="102.20" lengthAdjust="spacingAndGlyphs">Current Density (mA/cm<tspan font-size="4.8" dy="-3">2</tspan><tspan dy="3">)</tspan></text>
<line x1="301.70" y1="274.50" x2="315.10" y2="274.50" stroke="#fd4228" stroke-width="1.0" />
<circle cx="308.40" cy="274.50" r="2.0" fill="#fd4228" stroke="none" stroke-width="1"/>
<text x="317.40" y="276.30" font-size="5.82" text-anchor="start" fill="#222" stroke="#222" stroke-width="0.08" font-family="Liberation Sans, sans-serif" font-weight="bold" textLength="31.30" lengthAdjust="spacingAndGlyphs" >200°C Fresh</text>
<line x1="301.70" y1="282.40" x2="315.10" y2="282.40" stroke="#fd4228" stroke-width="1.0" stroke-dasharray="2,1.3"/>
<circle cx="308.40" cy="282.40" r="1.8" fill="#fff" stroke="#fd4228" stroke-width="0.8"/>
<text x="317.40" y="284.20" font-size="5.82" text-anchor="start" fill="#222" stroke="#222" stroke-width="0.08" font-family="Liberation Sans, sans-serif" font-weight="bold" textLength="41.70" lengthAdjust="spacingAndGlyphs" >200°C Self-aged</text>
<line x1="301.70" y1="290.30" x2="315.10" y2="290.30" stroke="#1fae1f" stroke-width="1.0" />
<rect x="306.60" y="288.50" width="3.6" height="3.6" fill="#1fae1f" stroke="none" stroke-width="1"/>
<text x="317.40" y="292.10" font-size="5.82" text-anchor="start" fill="#222" stroke="#222" stroke-width="0.08" font-family="Liberation Sans, sans-serif" font-weight="bold" textLength="31.30" lengthAdjust="spacingAndGlyphs" >180°C Fresh</text>
<line x1="301.70" y1="298.00" x2="315.10" y2="298.00" stroke="#1fae1f" stroke-width="1.0" stroke-dasharray="2,1.3"/>
<rect x="306.70" y="296.30" width="3.4" height="3.4" fill="#fff" stroke="#1fae1f" stroke-width="0.8"/>
<text x="317.40" y="299.80" font-size="5.82" text-anchor="start" fill="#222" stroke="#222" stroke-width="0.08" font-family="Liberation Sans, sans-serif" font-weight="bold" textLength="41.70" lengthAdjust="spacingAndGlyphs" >180°C Self-aged</text>
<text x="374.00" y="199.30" font-size="14" text-anchor="start" fill="#000" stroke="#000" stroke-width="0" font-family="Liberation Serif, serif" font-weight="bold" textLength="6.20" lengthAdjust="spacingAndGlyphs" >e</text>
<line x1="398.40" y1="295.80" x2="399.90" y2="295.80" stroke="#111" stroke-width="0.9" />
<line x1="398.40" y1="285.40" x2="400.40" y2="285.40" stroke="#111" stroke-width="0.9" />
<line x1="398.40" y1="275.00" x2="399.90" y2="275.00" stroke="#111" stroke-width="0.9" />
<line x1="398.40" y1="264.60" x2="400.40" y2="264.60" stroke="#111" stroke-width="0.9" />
<line x1="398.40" y1="254.20" x2="399.90" y2="254.20" stroke="#111" stroke-width="0.9" />
<line x1="398.40" y1="243.80" x2="400.40" y2="243.80" stroke="#111" stroke-width="0.9" />
<line x1="398.40" y1="233.40" x2="399.90" y2="233.40" stroke="#111" stroke-width="0.9" />
<line x1="398.40" y1="223.00" x2="400.40" y2="223.00" stroke="#111" stroke-width="0.9" />
<line x1="398.40" y1="212.60" x2="399.90" y2="212.60" stroke="#111" stroke-width="0.9" />
<line x1="412.29" y1="306.30" x2="412.29" y2="304.80" stroke="#111" stroke-width="0.9" />
<line x1="426.18" y1="306.30" x2="426.18" y2="304.30" stroke="#111" stroke-width="0.9" />
<line x1="440.07" y1="306.30" x2="440.07" y2="304.80" stroke="#111" stroke-width="0.9" />
<line x1="453.96" y1="306.30" x2="453.96" y2="304.30" stroke="#111" stroke-width="0.9" />
<line x1="467.85" y1="306.30" x2="467.85" y2="304.80" stroke="#111" stroke-width="0.9" />
<line x1="481.74" y1="306.30" x2="481.74" y2="304.30" stroke="#111" stroke-width="0.9" />
<line x1="495.63" y1="306.30" x2="495.63" y2="304.80" stroke="#111" stroke-width="0.9" />
<line x1="509.52" y1="306.30" x2="509.52" y2="304.30" stroke="#111" stroke-width="0.9" />
<line x1="523.41" y1="306.30" x2="523.41" y2="304.80" stroke="#111" stroke-width="0.9" />
<polyline points="397.90,291.00 400.80,271.10 408.00,259.60 417.30,256.50 432.30,255.30 449.30,256.00 467.00,257.60 483.50,259.70 498.40,262.30 515.30,265.10 531.50,267.70 537.30,269.00" fill="none" stroke="#fd4228" stroke-width="1.4" stroke-linejoin="round" />
<polyline points="398.80,273.00 401.20,255.60 405.80,249.60 414.40,248.20 427.10,248.30 443.10,248.40 466.30,249.90 483.50,252.80 508.70,255.80 523.40,257.00 537.30,260.30" fill="none" stroke="#1fae1f" stroke-width="1.4" stroke-linejoin="round" />
<polyline points="398.40,298.50 399.80,282.40 403.10,265.20 411.20,251.30 422.70,241.00 438.20,236.70 455.00,235.20 470.10,235.10 491.60,235.10 503.90,235.10 525.40,238.50 537.30,240.60" fill="none" stroke="#fd4228" stroke-width="1.1" stroke-linejoin="round" stroke-dasharray="2.6,1.6"/>
<polyline points="398.80,290.30 399.80,267.10 402.30,244.10 406.10,231.10 412.50,221.10 419.60,217.20 428.30,215.10 439.00,215.10 451.30,217.60 465.50,220.10 480.80,223.90 496.70,227.60 514.60,232.20 531.50,236.00 537.30,238.00" fill="none" stroke="#1fae1f" stroke-width="1.1" stroke-linejoin="round" stroke-dasharray="2.6,1.6"/>
<circle cx="397.90" cy="291.00" r="2.3" fill="#fd4228" stroke="none" stroke-width="1"/>
<circle cx="400.80" cy="271.10" r="2.3" fill="#fd4228" stroke="none" stroke-width="1"/>
<circle cx="408.00" cy="259.60" r="2.3" fill="#fd4228" stroke="none" stroke-width="1"/>
<circle cx="417.30" cy="256.50" r="2.3" fill="#fd4228" stroke="none" stroke-width="1"/>
<circle cx="432.30" cy="255.30" r="2.3" fill="#fd4228" stroke="none" stroke-width="1"/>
<circle cx="449.30" cy="256.00" r="2.3" fill="#fd4228" stroke="none" stroke-width="1"/>
<circle cx="467.00" cy="257.60" r="2.3" fill="#fd4228" stroke="none" stroke-width="1"/>
<circle cx="483.50" cy="259.70" r="2.3" fill="#fd4228" stroke="none" stroke-width="1"/>
<circle cx="498.40" cy="262.30" r="2.3" fill="#fd4228" stroke="none" stroke-width="1"/>
<circle cx="515.30" cy="265.10" r="2.3" fill="#fd4228" stroke="none" stroke-width="1"/>
<circle cx="531.50" cy="267.70" r="2.3" fill="#fd4228" stroke="none" stroke-width="1"/>
<rect x="396.80" y="271.00" width="4.0" height="4.0" fill="#1fae1f" stroke="none" stroke-width="1"/>
<rect x="399.20" y="253.60" width="4.0" height="4.0" fill="#1fae1f" stroke="none" stroke-width="1"/>
<rect x="403.80" y="247.60" width="4.0" height="4.0" fill="#1fae1f" stroke="none" stroke-width="1"/>
<rect x="412.40" y="246.20" width="4.0" height="4.0" fill="#1fae1f" stroke="none" stroke-width="1"/>
<rect x="425.10" y="246.30" width="4.0" height="4.0" fill="#1fae1f" stroke="none" stroke-width="1"/>
<rect x="441.10" y="246.40" width="4.0" height="4.0" fill="#1fae1f" stroke="none" stroke-width="1"/>
<rect x="464.30" y="247.90" width="4.0" height="4.0" fill="#1fae1f" stroke="none" stroke-width="1"/>
<rect x="481.50" y="250.80" width="4.0" height="4.0" fill="#1fae1f" stroke="none" stroke-width="1"/>
<rect x="506.70" y="253.80" width="4.0" height="4.0" fill="#1fae1f" stroke="none" stroke-width="1"/>
<rect x="521.40" y="255.00" width="4.0" height="4.0" fill="#1fae1f" stroke="none" stroke-width="1"/>
<circle cx="398.40" cy="298.50" r="2.3" fill="#fff" stroke="#fd4228" stroke-width="1.0"/>
<circle cx="399.80" cy="282.40" r="2.3" fill="#fff" stroke="#fd4228" stroke-width="1.0"/>
<circle cx="403.10" cy="265.20" r="2.3" fill="#fff" stroke="#fd4228" stroke-width="1.0"/>
<circle cx="411.20" cy="251.30" r="2.3" fill="#fff" stroke="#fd4228" stroke-width="1.0"/>
<circle cx="422.70" cy="241.00" r="2.3" fill="#fff" stroke="#fd4228" stroke-width="1.0"/>
<circle cx="438.20" cy="236.70" r="2.3" fill="#fff" stroke="#fd4228" stroke-width="1.0"/>
<circle cx="455.00" cy="235.20" r="2.3" fill="#fff" stroke="#fd4228" stroke-width="1.0"/>
<circle cx="470.10" cy="235.10" r="2.3" fill="#fff" stroke="#fd4228" stroke-width="1.0"/>
<circle cx="491.60" cy="235.10" r="2.3" fill="#fff" stroke="#fd4228" stroke-width="1.0"/>
<circle cx="503.90" cy="235.10" r="2.3" fill="#fff" stroke="#fd4228" stroke-width="1.0"/>
<circle cx="525.40" cy="238.50" r="2.3" fill="#fff" stroke="#fd4228" stroke-width="1.0"/>
<rect x="396.80" y="288.30" width="4.0" height="4.0" fill="#fff" stroke="#1fae1f" stroke-width="1.0"/>
<rect x="397.80" y="265.10" width="4.0" height="4.0" fill="#fff" stroke="#1fae1f" stroke-width="1.0"/>
<rect x="400.30" y="242.10" width="4.0" height="4.0" fill="#fff" stroke="#1fae1f" stroke-width="1.0"/>
<rect x="404.10" y="229.10" width="4.0" height="4.0" fill="#fff" stroke="#1fae1f" stroke-width="1.0"/>
<rect x="410.50" y="219.10" width="4.0" height="4.0" fill="#fff" stroke="#1fae1f" stroke-width="1.0"/>
<rect x="417.60" y="215.20" width="4.0" height="4.0" fill="#fff" stroke="#1fae1f" stroke-width="1.0"/>
<rect x="426.30" y="213.10" width="4.0" height="4.0" fill="#fff" stroke="#1fae1f" stroke-width="1.0"/>
<rect x="437.00" y="213.10" width="4.0" height="4.0" fill="#fff" stroke="#1fae1f" stroke-width="1.0"/>
<rect x="449.30" y="215.60" width="4.0" height="4.0" fill="#fff" stroke="#1fae1f" stroke-width="1.0"/>
<rect x="463.50" y="218.10" width="4.0" height="4.0" fill="#fff" stroke="#1fae1f" stroke-width="1.0"/>
<rect x="478.80" y="221.90" width="4.0" height="4.0" fill="#fff" stroke="#1fae1f" stroke-width="1.0"/>
<rect x="494.70" y="225.60" width="4.0" height="4.0" fill="#fff" stroke="#1fae1f" stroke-width="1.0"/>
<rect x="512.60" y="230.20" width="4.0" height="4.0" fill="#fff" stroke="#1fae1f" stroke-width="1.0"/>
<rect x="529.50" y="234.00" width="4.0" height="4.0" fill="#fff" stroke="#1fae1f" stroke-width="1.0"/>
<rect x="398.40" y="202.20" width="138.90" height="104.10" fill="none" stroke="#111" stroke-width="1.1"/>
<text x="394.80" y="308.80" font-size="7.39" text-anchor="end" fill="#1a1a1a" stroke="#1a1a1a" stroke-width="0.08" font-family="Liberation Sans, sans-serif" font-weight="bold" >0</text>
<text x="394.80" y="288.00" font-size="7.39" text-anchor="end" fill="#1a1a1a" stroke="#1a1a1a" stroke-width="0.08" font-family="Liberation Sans, sans-serif" font-weight="bold" >5</text>
<text x="394.80" y="267.20" font-size="7.39" text-anchor="end" fill="#1a1a1a" stroke="#1a1a1a" stroke-width="0.08" font-family="Liberation Sans, sans-serif" font-weight="bold" >10</text>
<text x="394.80" y="246.40" font-size="7.39" text-anchor="end" fill="#1a1a1a" stroke="#1a1a1a" stroke-width="0.08" font-family="Liberation Sans, sans-serif" font-weight="bold" >15</text>
<text x="394.80" y="225.60" font-size="7.39" text-anchor="end" fill="#1a1a1a" stroke="#1a1a1a" stroke-width="0.08" font-family="Liberation Sans, sans-serif" font-weight="bold" >20</text>
<text x="394.80" y="204.80" font-size="7.39" text-anchor="end" fill="#1a1a1a" stroke="#1a1a1a" stroke-width="0.08" font-family="Liberation Sans, sans-serif" font-weight="bold" >25</text>
<text x="426.18" y="316.80" font-size="7.0" text-anchor="middle" fill="#1a1a1a" stroke="#1a1a1a" stroke-width="0" font-family="Liberation Serif, serif" font-weight="bold" textLength="13.60" lengthAdjust="spacingAndGlyphs" >3000</text>
<text x="453.96" y="316.80" font-size="7.0" text-anchor="middle" fill="#1a1a1a" stroke="#1a1a1a" stroke-width="0" font-family="Liberation Serif, serif" font-weight="bold" textLength="13.60" lengthAdjust="spacingAndGlyphs" >6000</text>
<text x="481.74" y="316.80" font-size="7.0" text-anchor="middle" fill="#1a1a1a" stroke="#1a1a1a" stroke-width="0" font-family="Liberation Serif, serif" font-weight="bold" textLength="13.60" lengthAdjust="spacingAndGlyphs" >9000</text>
<text x="509.52" y="316.80" font-size="7.0" text-anchor="middle" fill="#1a1a1a" stroke="#1a1a1a" stroke-width="0" font-family="Liberation Serif, serif" font-weight="bold" textLength="16.50" lengthAdjust="spacingAndGlyphs" >12,000</text>
<text x="537.30" y="316.80" font-size="7.0" text-anchor="middle" fill="#1a1a1a" stroke="#1a1a1a" stroke-width="0" font-family="Liberation Serif, serif" font-weight="bold" textLength="16.50" lengthAdjust="spacingAndGlyphs" >15,000</text>
<text x="433.60" y="330.70" font-size="8.4" text-anchor="start" fill="#222" stroke="#222" stroke-width="0.08" font-family="Liberation Sans, sans-serif" font-weight="bold" textLength="68.40" lengthAdjust="spacingAndGlyphs" >Luminance (cd/m<tspan font-size="4.5" dy="-2.5">2</tspan><tspan dy="2.5">)</tspan></text>
<text transform="translate(382.40,271.00) rotate(-90)" x="0" y="0" font-size="8.06" fill="#1a1a1a" stroke="#1a1a1a" stroke-width="0.08" font-family="Liberation Sans, sans-serif" font-weight="bold" textLength="35.40" lengthAdjust="spacingAndGlyphs">E.Q.E (%)</text>
</svg>
</body></html>
